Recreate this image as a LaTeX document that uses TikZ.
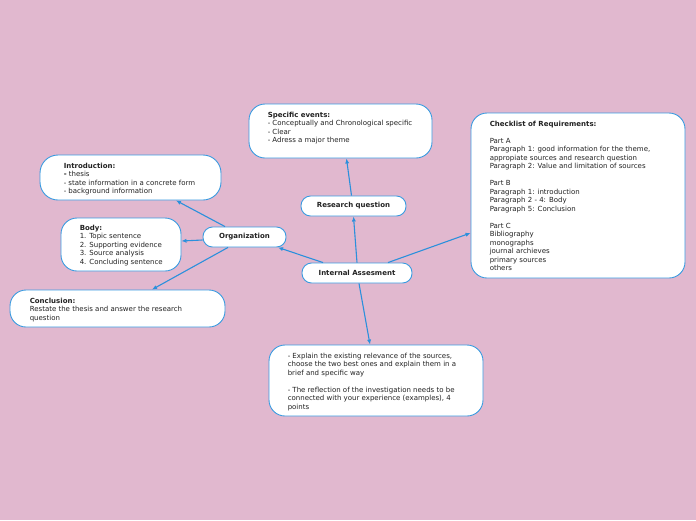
\documentclass[tikz,border=0pt]{standalone}
\usepackage{fontspec}
\setmainfont{DejaVu Sans}
\usetikzlibrary{arrows.meta}
\definecolor{bg}{HTML}{E1B8CF}
\definecolor{bord}{HTML}{3A9BE0}
\definecolor{arr}{HTML}{2B90DC}
\definecolor{ink}{HTML}{222222}
\tikzset{
  box/.style={draw=bord, fill=white, line width=0.9pt, rounded corners=16pt, inner sep=0pt},
  pill/.style={draw=bord, fill=white, line width=0.9pt, rounded corners=9.5pt, inner sep=0pt, minimum height=20pt, font=\fontsize{7}{8.5}\selectfont\bfseries, text=ink},
  txt/.style={align=left, inner sep=0pt, anchor=west, font=\fontsize{7}{8.5}\selectfont, text=ink},
  link/.style={draw=arr, line width=1.1pt, -{Latex[length=5pt,width=4.2pt]}}
}
\begin{document}
\begin{tikzpicture}[x=1pt,y=-1pt]
\fill[bg] (0,0) rectangle (696,520);
\useasboundingbox (0,0) rectangle (696,520);

% nodes
\node[pill, minimum width=110pt] (ia) at (357,273) {Internal Assesment};
\node[pill, minimum width=105pt] (rq) at (353.5,206) {Research question};
\node[pill, minimum width=83pt] (org) at (244.5,237) {Organization};

\node[box, minimum width=183pt, minimum height=54pt] (spec) at (340.5,131) {};
\node[txt] (spect) at ([xshift=19pt,yshift=3pt]spec.west) {\textbf{Specific events:}\\- Conceptually and Chronological specific\\- Clear\\- Adress a major theme};

\node[box, minimum width=214pt, minimum height=165pt] (check) at (578,195.5) {};
\node[txt] (checkt) at ([xshift=19pt,yshift=-0.5pt]check.west) {\textbf{Checklist of Requirements:}\\[8.5pt]Part A\\Paragraph 1: good information for the theme,\\appropiate sources and research question\\Paragraph 2: Value and limitation of sources\\[8.5pt]Part B\\Paragraph 1: introduction\\Paragraph 2 - 4: Body\\Paragraph 5: Conclusion\\[8.5pt]Part C\\Bibliography\\monographs\\journal archieves\\primary sources\\others};

\node[box, minimum width=181pt, minimum height=45pt, rounded corners=18pt] (intro) at (130.5,177.5) {};
\node[txt] (introt) at ([xshift=24pt,yshift=-1.5pt]intro.west) {\textbf{Introduction:}\\\textbf{-} thesis\\- state information in a concrete form\\- background information};

\node[box, minimum width=120pt, minimum height=53pt] (body) at (121,244.5) {};
\node[txt] (bodyt) at ([xshift=19pt,yshift=-1pt]body.west) {\textbf{Body:}\\1. Topic sentence\\2. Supporting evidence\\3. Source analysis\\4. Concluding sentence};

\node[box, minimum width=215pt, minimum height=37pt, rounded corners=16pt] (concl) at (117.5,308.5) {};
\node[txt] (conclt) at ([xshift=20pt,yshift=-1.5pt]concl.west) {\textbf{Conclusion:}\\Restate the thesis and answer the research\\question};

\node[box, minimum width=214pt, minimum height=71pt] (bot) at (376,380.5) {};
\node[txt] (bott) at ([xshift=19pt,yshift=-1.5pt]bot.west) {- Explain the existing relevance of the sources,\\choose the two best ones and explain them in a\\brief and specific way\\[8.5pt]- The reflection of the investigation needs to be\\connected with your experience (examples), 4\\points};

% connectors
\draw[link] (ia.north) -- (rq.south);
\draw[link] ([xshift=-2pt]rq.north) -- ([xshift=6pt]spec.south);
\draw[link] ([xshift=31pt]ia.north) -- ([yshift=-37.5pt]check.west);
\draw[link] ([xshift=-34pt]ia.north) -- ([xshift=33.5pt]org.south);
\draw[link] ([xshift=2pt]ia.south) -- ([xshift=-6pt]bot.north);
\draw[link] ([xshift=-19.5pt]org.north) -- ([xshift=45.5pt]intro.south);
\draw[link] ([yshift=-3pt]org.west) -- ([yshift=3.5pt]body.east);
\draw[link] ([xshift=-16.5pt]org.south) -- ([xshift=34.5pt]concl.north);
\end{tikzpicture}
\end{document}
